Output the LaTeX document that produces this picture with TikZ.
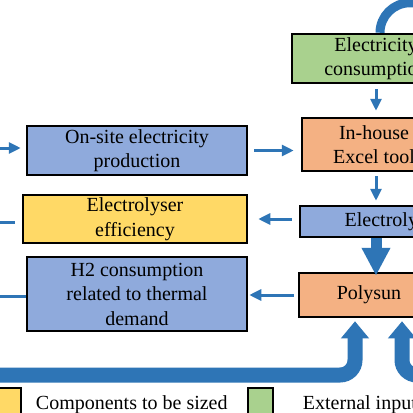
\documentclass[tikz,border=0pt]{standalone}
\usepackage{fontspec}
\setmainfont{Liberation Serif}
\usepackage{xcolor}
\usepackage{tikz}
\usetikzlibrary{arrows.meta,positioning}

\definecolor{boxblue}{HTML}{8FAADC}
\definecolor{boxyellow}{HTML}{FFD966}
\definecolor{boxorange}{HTML}{F4B183}
\definecolor{boxgreen}{HTML}{A9D18E}
\definecolor{flowblue}{HTML}{2E75B6}

\begin{document}
\begin{tikzpicture}[x=1pt, y=-1pt,
    box/.style={draw=black, line width=2.5pt, align=center, inner sep=0pt,
      font=\fontsize{20}{24.5}\selectfont},
    thinarrow/.style={flowblue, line width=3pt, -{Triangle[width=11pt,length=12pt]}},
    thinline/.style={flowblue, line width=3pt},
    bigarrow/.style={flowblue, line width=15pt, rounded corners=15pt,
      -{Triangle[width=27pt,length=17pt]}},
    legbox/.style={draw=black, line width=1.5pt, minimum width=22pt, minimum height=28pt}]
    \useasboundingbox (0,0) rectangle (413,413);
    \clip (0,0) rectangle (413,413);
    \fill[white] (0,0) rectangle (413,413);

    % right column
    \node[box, fill=boxgreen, minimum width=168pt, minimum height=49pt] (elec) at (376,58.5) {Electricity\\consumption};
    \node[box, fill=boxorange, minimum width=144pt, minimum height=53pt] (inhouse) at (374,144.5) {In-house\\Excel tool};
    \node[box, fill=boxblue, minimum width=186pt, minimum height=31pt] (electro) at (393,221.5) {Electrolyser};
    \node[box, fill=boxorange, minimum width=140pt, minimum height=44pt] (polysun) at (369,295) {Polysun};

    % left column
    \node[box, fill=boxblue, minimum width=220pt, minimum height=49pt] (onsite) at (137,150.5) {On-site electricity\\production};
    \node[box, fill=boxyellow, minimum width=224pt, minimum height=48pt] (effic) at (135,219) {Electrolyser\\efficiency};
    \node[box, fill=boxblue, minimum width=220pt, minimum height=74pt] (htwo) at (137,294) {H2 consumption\\related to thermal\\demand};

    \coordinate (inL) at (-5,148);
    \coordinate (effL) at (-5,222);
    \coordinate (htwoL) at (-5,296);
    \coordinate (loopA) at (-10,375);
    \coordinate (loopB) at (430,375);

    \draw[thinarrow, shorten <=5pt, shorten >=6pt] (elec.south) -- (inhouse.north -| elec.south);
    \draw[thinarrow, shorten <=4pt, shorten >=4pt] (inhouse.south -| elec.south) -- (electro.north -| elec.south);
    \draw[flowblue, line width=11pt, -{Triangle[width=27pt,length=28pt]}, shorten >=-4pt] (electro.south -| elec.south) -- (polysun.north -| elec.south);
    \draw[thinarrow, shorten <=6pt, shorten >=7pt] (onsite.east) -- (onsite.east -| inhouse.west);
    \draw[thinarrow, shorten <=7pt, shorten >=10pt] (electro.west |- effic.east) -- (effic.east);
    \draw[thinarrow, shorten <=4pt, shorten >=1pt] (polysun.west) -- (polysun.west -| htwo.east);

    \draw[thinarrow, shorten >=5pt] (inL) -- (inL -| onsite.west);
    \draw[thinline, shorten <=7pt] (effic.west |- effL) -- (effL);
    \draw[thinline] (htwo.west |- htwoL) -- (htwoL);

    \draw[bigarrow, shorten >=3pt] (loopA) -| ([xshift=-14pt]polysun.south);
    \draw[bigarrow, shorten >=3pt] (loopB) -| ([xshift=33pt]polysun.south);
    \draw[flowblue, line width=9pt] ([xshift=4pt]elec.north) arc[start angle=180, end angle=30, radius=30pt];

    % legend
    \node[legbox, fill=boxyellow] (legsize) at (10,402) {};
    \node[right=14pt of legsize, yshift=-3pt, inner sep=0pt, font=\fontsize{20}{24}\selectfont] (legsizetxt) {Components to be sized};
    \node[legbox, fill=boxgreen, minimum width=25pt] (legext) at (260.5,402) {};
    \node[right=29pt of legext, yshift=-3pt, inner sep=0pt, font=\fontsize{20}{24}\selectfont] (legexttxt) {External inputs};
  \end{tikzpicture}
\end{document}
